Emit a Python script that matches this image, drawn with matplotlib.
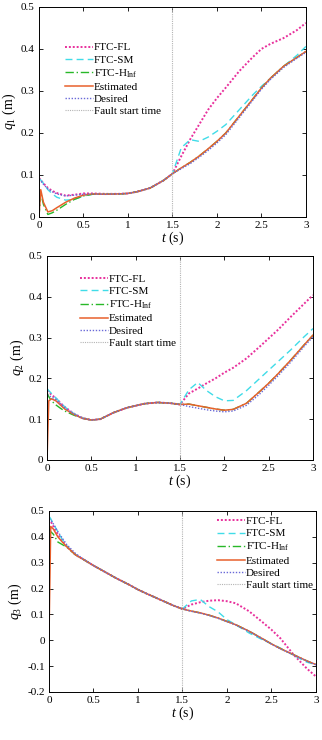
import matplotlib
matplotlib.use("Agg")
import matplotlib.pyplot as plt

plt.rcParams['font.family'] = ['Liberation Serif', 'DejaVu Serif']
plt.rcParams['mathtext.fontset'] = 'custom'
plt.rcParams['mathtext.rm'] = 'Liberation Serif'
plt.rcParams['mathtext.it'] = 'Liberation Serif:italic'

t = [0, 0.02, 0.05, 0.1, 0.15, 0.2, 0.3, 0.4, 0.5, 0.6, 0.75, 0.9, 1.0, 1.1, 1.25,
     1.4, 1.5, 1.6, 1.7, 1.8, 1.9, 2.0, 2.1, 2.25, 2.4, 2.5, 2.6, 2.75, 2.9, 3.0]

# ---- q1 ----
q1_fl = [0.093, 0.088, 0.080, 0.069, 0.062, 0.057, 0.051, 0.053, 0.056, 0.056, 0.055, 0.055, 0.056, 0.060, 0.069,
         0.087, 0.103, 0.145, 0.185, 0.220, 0.255, 0.283, 0.308, 0.347, 0.380, 0.400, 0.412, 0.426, 0.445, 0.462]
q1_sm = [0.090, 0.088, 0.080, 0.065, 0.055, 0.047, 0.040, 0.042, 0.050, 0.054, 0.054, 0.055, 0.056, 0.060, 0.069,
         0.087, 0.103, 0.165, 0.184, 0.180, 0.190, 0.204, 0.220, 0.255, 0.290, 0.311, 0.330, 0.359, 0.385, 0.406]
q1_hinf = [0.000, 0.058, 0.030, 0.006, 0.010, 0.016, 0.030, 0.042, 0.050, 0.054, 0.054, 0.055, 0.056, 0.060, 0.069,
           0.087, 0.103, 0.117, 0.130, 0.145, 0.162, 0.180, 0.200, 0.240, 0.280, 0.307, 0.330, 0.359, 0.380, 0.394]
q1_est = [0.000, 0.065, 0.035, 0.012, 0.015, 0.022, 0.035, 0.045, 0.052, 0.055, 0.054, 0.055, 0.056, 0.060, 0.069,
          0.087, 0.103, 0.117, 0.130, 0.145, 0.162, 0.180, 0.200, 0.240, 0.280, 0.307, 0.330, 0.359, 0.380, 0.394]
q1_des = [0.090, 0.086, 0.078, 0.067, 0.060, 0.055, 0.050, 0.052, 0.054, 0.055, 0.054, 0.055, 0.056, 0.060, 0.069,
          0.087, 0.103, 0.115, 0.127, 0.142, 0.158, 0.176, 0.196, 0.236, 0.277, 0.304, 0.327, 0.356, 0.378, 0.392]

# ---- q2 ----
q2_fl = [0.170, 0.167, 0.160, 0.151, 0.140, 0.130, 0.114, 0.103, 0.098, 0.100, 0.116, 0.128, 0.133, 0.138, 0.141,
         0.139, 0.136, 0.163, 0.175, 0.188, 0.200, 0.214, 0.226, 0.249, 0.278, 0.298, 0.318, 0.351, 0.383, 0.404]
q2_sm = [0.175, 0.170, 0.163, 0.152, 0.141, 0.130, 0.114, 0.103, 0.098, 0.100, 0.116, 0.128, 0.133, 0.138, 0.141,
         0.139, 0.136, 0.172, 0.190, 0.170, 0.155, 0.145, 0.146, 0.170, 0.200, 0.220, 0.240, 0.270, 0.302, 0.322]
q2_hinf = [0.165, 0.155, 0.145, 0.135, 0.127, 0.120, 0.110, 0.102, 0.098, 0.100, 0.116, 0.128, 0.133, 0.138, 0.141,
           0.139, 0.136, 0.137, 0.133, 0.129, 0.125, 0.122, 0.124, 0.139, 0.168, 0.188, 0.210, 0.245, 0.282, 0.306]
q2_est = [0.000, 0.145, 0.150, 0.145, 0.135, 0.125, 0.112, 0.102, 0.098, 0.100, 0.116, 0.128, 0.133, 0.138, 0.141,
          0.139, 0.136, 0.137, 0.133, 0.129, 0.125, 0.122, 0.124, 0.139, 0.168, 0.188, 0.210, 0.245, 0.282, 0.306]
q2_des = [0.160, 0.158, 0.154, 0.148, 0.138, 0.128, 0.113, 0.102, 0.098, 0.100, 0.116, 0.128, 0.133, 0.138, 0.141,
          0.139, 0.136, 0.131, 0.127, 0.123, 0.120, 0.118, 0.120, 0.134, 0.162, 0.183, 0.205, 0.240, 0.278, 0.302]

# ---- q3 ----
q3_fl = [0.470, 0.460, 0.440, 0.410, 0.385, 0.362, 0.330, 0.310, 0.289, 0.270, 0.241, 0.215, 0.196, 0.180, 0.157,
         0.134, 0.121, 0.138, 0.147, 0.153, 0.155, 0.151, 0.143, 0.112, 0.070, 0.041, 0.008, -0.056, -0.110, -0.140]
q3_sm = [0.480, 0.470, 0.450, 0.420, 0.390, 0.365, 0.330, 0.310, 0.289, 0.270, 0.241, 0.215, 0.196, 0.180, 0.157,
         0.134, 0.121, 0.152, 0.158, 0.130, 0.110, 0.080, 0.060, 0.028, 0.002, -0.013, -0.030, -0.058, -0.085, -0.094]
q3_hinf = [0.430, 0.420, 0.410, 0.380, 0.370, 0.360, 0.330, 0.310, 0.289, 0.270, 0.241, 0.215, 0.196, 0.180, 0.157,
           0.134, 0.121, 0.113, 0.106, 0.097, 0.086, 0.073, 0.060, 0.035, 0.006, -0.014, -0.032, -0.056, -0.080, -0.094]
q3_est = [0.000, 0.440, 0.430, 0.400, 0.380, 0.362, 0.330, 0.310, 0.289, 0.270, 0.241, 0.215, 0.196, 0.180, 0.157,
          0.134, 0.121, 0.113, 0.106, 0.097, 0.086, 0.073, 0.060, 0.035, 0.006, -0.014, -0.032, -0.056, -0.080, -0.094]
q3_des = [0.470, 0.465, 0.450, 0.420, 0.395, 0.370, 0.335, 0.311, 0.289, 0.270, 0.241, 0.215, 0.196, 0.180, 0.157,
          0.134, 0.121, 0.112, 0.105, 0.096, 0.085, 0.072, 0.059, 0.034, 0.005, -0.015, -0.033, -0.057, -0.081, -0.095]

fault_time = 1.5
labels = ['FTC-FL', 'FTC-SM', r'FTC-H$_{\mathrm{Inf}}$', 'Estimated', 'Desired', 'Fault start time']
ylabels = [r'$q_{1}$ (m)', r'$q_{2}$ (m)', r'$q_{3}$ (m)']
xticks = [0, 0.5, 1, 1.5, 2, 2.5, 3]
xticklabels = ['0', '0.5', '1', '1.5', '2', '2.5', '3']

panels = [
    dict(data=[q1_fl, q1_sm, q1_hinf, q1_est, q1_des], ylim=(0, 0.5),
         yticks=[0, 0.1, 0.2, 0.3, 0.4, 0.5], yticklabels=['0', '0.1', '0.2', '0.3', '0.4', '0.5'],
         rect=[0.121, 0.7068, 0.829, 0.2838], leg=(0.097, 0.83)),
    dict(data=[q2_fl, q2_sm, q2_hinf, q2_est, q2_des], ylim=(0, 0.5),
         yticks=[0, 0.1, 0.2, 0.3, 0.4, 0.5], yticklabels=['0', '0.1', '0.2', '0.3', '0.4', '0.5'],
         rect=[0.146, 0.3784, 0.826, 0.2757], leg=(0.124, 0.91)),
    dict(data=[q3_fl, q3_sm, q3_hinf, q3_est, q3_des], ylim=(-0.2, 0.5),
         yticks=[-0.2, -0.1, 0, 0.1, 0.2, 0.3, 0.4, 0.5],
         yticklabels=['-0.2', '-0.1', '0', '0.1', '0.2', '0.3', '0.4', '0.5'],
         rect=[0.152, 0.0649, 0.829, 0.2446], leg=(0.629, 0.97)),
]

styles = [
    dict(color='#e8309c', linestyle=(0, (1, 1)), linewidth=1.4),
    dict(color='#40dce8', linestyle=(0, (5, 3)), linewidth=1.0),
    dict(color='#28b828', linestyle=(0, (6, 2, 1, 2)), linewidth=1.0),
    dict(color='#e8602c', linestyle='-', linewidth=1.1),
    dict(color='#6a6ad8', linestyle=(0, (1, 1.2)), linewidth=1.0),
]

fig = plt.figure(figsize=(3.22, 7.4), dpi=100)
for i, p in enumerate(panels):
    ax = fig.add_axes(p['rect'])
    for d, s in zip(p['data'], styles):
        ax.plot(t, d, **s)
    ax.axvline(fault_time, color='#b4b4b4', linestyle=(0, (1, 1)), linewidth=0.8)
    ax.set_xlim(0, 3)
    ax.set_ylim(*p['ylim'])
    ax.set_xticks(xticks)
    ax.set_xticklabels(xticklabels)
    ax.set_yticks(p['yticks'])
    ax.set_yticklabels(p['yticklabels'])
    ax.tick_params(direction='in', top=True, right=True, labelsize=8, length=3, width=0.6, pad=3)
    for sp in ax.spines.values():
        sp.set_linewidth(0.7)
    ax.set_xlabel(r'$t$ (s)', fontsize=10, labelpad=0)
    ax.set_ylabel(ylabels[i], fontsize=10, labelpad=2)
    ax.legend(ax.get_lines(), labels, loc='upper left', bbox_to_anchor=p['leg'], frameon=False,
              fontsize=8, borderpad=0, borderaxespad=0, handlelength=2.5, handletextpad=0.1,
              labelspacing=0.22)

fig.savefig('out.png', dpi=100)
